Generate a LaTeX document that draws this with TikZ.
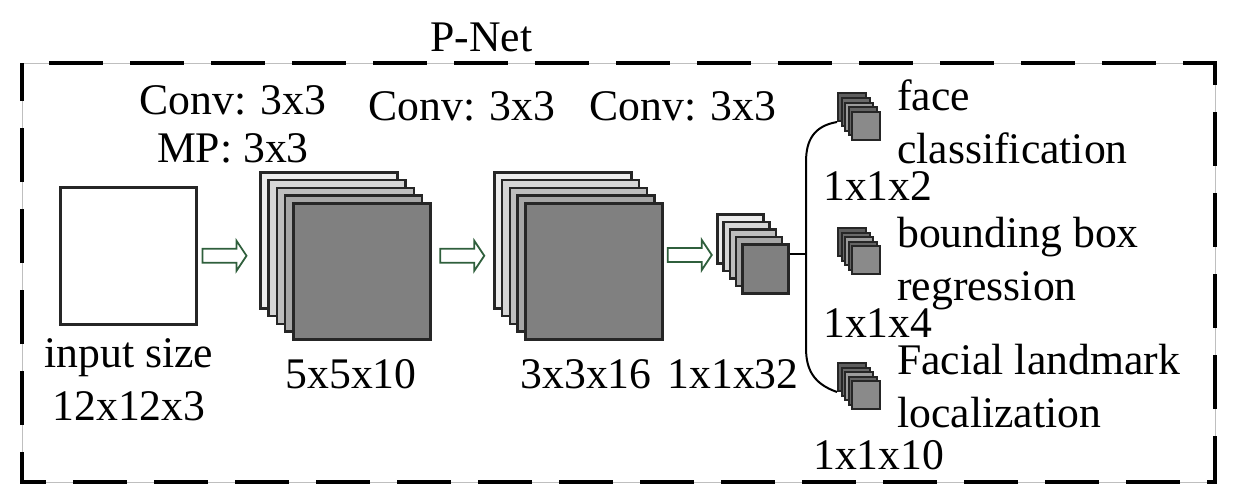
\documentclass[tikz,border=0pt]{standalone}
\usepackage{fontspec}
\setmainfont{Liberation Serif}
\usetikzlibrary{calc}
\definecolor{arrowgreen}{HTML}{2F5F3C}
\definecolor{layerA}{HTML}{ECECEC}
\definecolor{layerB}{HTML}{D6D6D6}
\definecolor{layerC}{HTML}{BEBEBE}
\definecolor{layerD}{HTML}{A6A6A6}
\definecolor{layerE}{HTML}{808080}
\definecolor{outA}{HTML}{5E5E5E}
\definecolor{outB}{HTML}{6A6A6A}
\definecolor{outC}{HTML}{9C9C9C}
\definecolor{outD}{HTML}{646464}
\definecolor{outE}{HTML}{8A8A8A}
\tikzset{
  txt/.style={font=\fontsize{43.7}{53}\selectfont, inner sep=0pt},
  layer/.style={draw=black!85, line width=2.5pt, anchor=north west, inner sep=0pt},
  outlayer/.style={layer, line width=2pt, minimum width=28pt, minimum height=28pt},
  openarrow/.pic={
    \draw[arrowgreen, line width=1.8pt, fill=white, line join=miter]
      (-22,-7) -- (12,-7) -- (12,-15) -- (22,0) -- (12,15) -- (12,7) -- (-22,7) -- cycle;
  }
}
\begin{document}
\begin{tikzpicture}[x=1pt,y=-1pt]
  \useasboundingbox (0,0) rectangle (1237,495);
  % frame
  \draw[line width=0.6pt, black!25] (22,63) -- (1215,63) -- (1215,482) -- (22,482) -- cycle;
  \draw[line width=4pt, dash pattern=on 54pt off 27pt, dash phase=54pt]
    (22,63) -- (1215,63) -- (1215,482) -- (22,482) -- cycle;
  \node[txt, anchor=base west] (pnet) at (430,52) {P-Net};

  % input
  \node[layer, fill=white, minimum width=136pt, minimum height=137pt] (in) at (59,186) {};
  \node[txt, align=center, anchor=base] (lin) at (129,420) {input size\\12x12x3};

  % first and second feature maps
  \foreach \i/\c in {0/layerA,1/layerB,2/layerC,3/layerD,4/layerE}
    \node[layer, fill=\c, minimum width=137pt, minimum height=136pt] (cA\i) at ({259+8.25*\i},{171+7.75*\i}) {};
  \foreach \i/\c in {0/layerA,1/layerB,2/layerC,3/layerD,4/layerE}
    \node[layer, fill=\c, minimum width=137pt, minimum height=136pt] (cB\i) at ({493+7.75*\i},{171+7.75*\i}) {};
  \foreach \i/\c in {0/layerA,1/layerB,2/layerC,3/layerD,4/layerE}
    \node[layer, fill=\c, minimum width=46pt, minimum height=49pt] (cC\i) at ({716+6.25*\i},{213+7.5*\i}) {};

  \pic at ($(in.east)+(27,0)$) {openarrow};
  \pic at ($(cA4.east)!0.5!(cB0.west)$) {openarrow};
  \pic at ($(cB4.east)!0.5!(cC0.west)$) {openarrow};

  \node[txt, align=center, font=\fontsize{43.7}{48}\selectfont, anchor=base] (conv1) at (233,162) {Conv: 3x3\\MP: 3x3};
  \node[txt, anchor=base] (conv2) at (462,121) {Conv: 3x3};
  \node[txt, anchor=base] (conv3) at (683,121) {Conv: 3x3};
  \node[txt, anchor=base] (lA) at (351,388) {5x5x10};
  \node[txt, anchor=base] (lB) at (586,388) {3x3x16};
  \node[txt, anchor=base] (lC) at (733,388) {1x1x32};

  % outputs
  \foreach \i/\c in {0/outA,1/outB,2/outC,3/outD,4/outE}{
    \node[outlayer, fill=\c] (oA\i) at ({837+3.5*\i},{92+4.75*\i}) {};
    \node[outlayer, fill=\c] (oB\i) at ({837+3.5*\i},{227+4.5*\i}) {};
    \node[outlayer, fill=\c] (oC\i) at ({837+3.5*\i},{362+4.5*\i}) {};
  }
  \coordinate (brc) at (806,254);
  \draw[line width=2pt] ($(cC4.north east)+(0,11)$) -- (brc);
  \draw[line width=2pt] (oA0.south west) .. controls (814,126) and (806,140) .. (806,162)
    -- (806,348) .. controls (806,370) and (814,384) .. (oC0.south west);

  \node[txt, align=left, anchor=base west] (tA) at (897,163) {face\\classification};
  \node[txt, anchor=base west] (dA) at (823,200) {1x1x2};
  \node[txt, align=left, anchor=base west] (tB) at (897,300) {bounding box\\regression};
  \node[txt, anchor=base west] (dB) at (823,337) {1x1x4};
  \node[txt, align=left, anchor=base west] (tC) at (897,427) {Facial landmark\\localization};
  \node[txt, anchor=base west] (dC) at (813,469) {1x1x10};
\end{tikzpicture}
\end{document}
